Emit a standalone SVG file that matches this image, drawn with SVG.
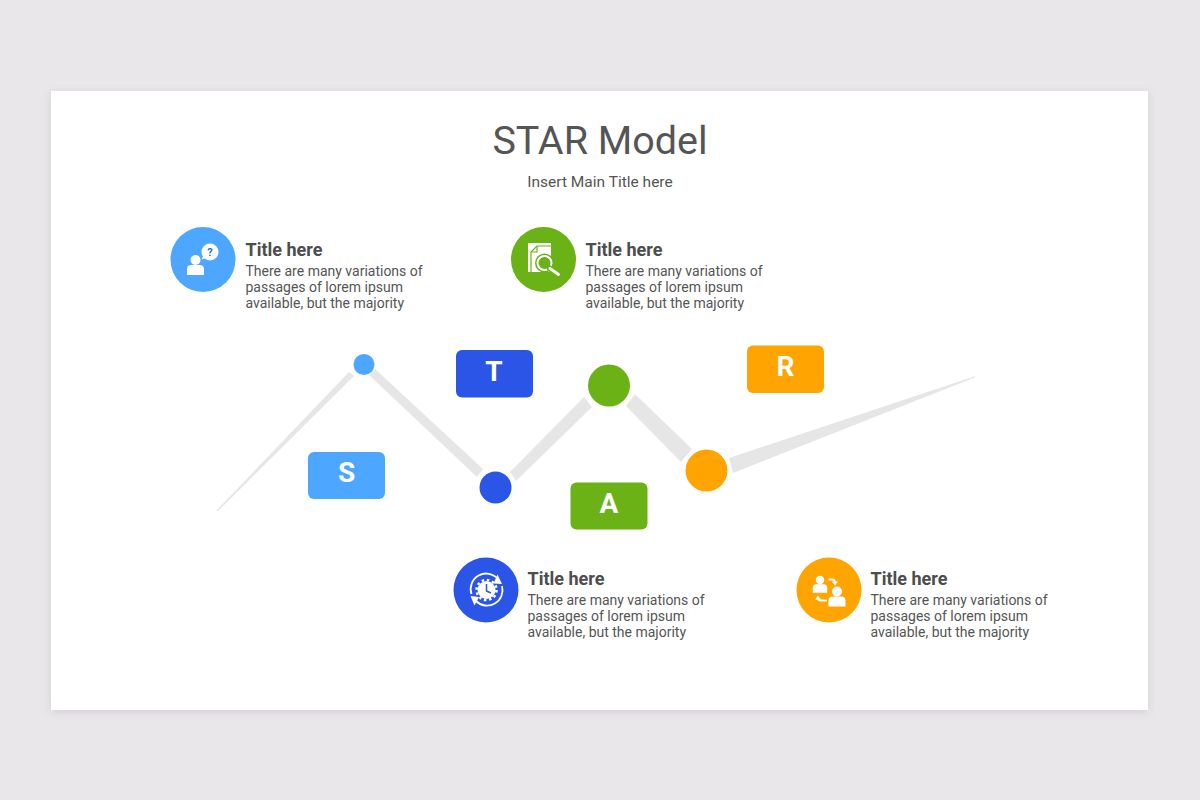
<svg xmlns="http://www.w3.org/2000/svg" width="1200" height="800" viewBox="0 0 1200 800">
<defs>
<filter id="sh" x="-5%" y="-5%" width="110%" height="110%"><feDropShadow dx="0" dy="2" stdDeviation="5" flood-color="#000" flood-opacity="0.1"/></filter>
<g id="person"><circle cx="0" cy="-7" r="5"/><path d="M-8.500 8 V2 Q-8.500 -2 -4 -2 H4 Q8.500 -2 8.500 2 V8 Z"/></g>
</defs>
<style>
text{font-family:Roboto,"Liberation Sans",sans-serif;fill:#555}
.h{font-size:18px;font-weight:700;fill:#4d4d4d}
.b{font-size:14px}
.l{font-size:28px;font-weight:700;fill:#fff;text-anchor:middle}
.w{fill:#fff}
.wl{fill:none;stroke:#fff;stroke-width:1.800}
.c{fill:#e6e6e6}
</style>
<rect width="1200" height="800" fill="#e9e7e9"/>
<rect x="51" y="91" width="1097" height="619" fill="#fff" filter="url(#sh)"/>
<text id="title" x="600" y="154" font-size="39.500" text-anchor="middle">STAR Model</text>
<text id="subtitle" x="600" y="186.500" font-size="15.500" text-anchor="middle">Insert Main Title here</text>
<g id="connectors">
<polygon class="c" points="216,511 218,511 354,376 349,372"/>
<polygon class="c" points="375,369 369,375 477,477 483,469"/>
<polygon class="c" points="510,472 516,481 592,407 584,397"/>
<polygon class="c" points="635,394 626,406 681,462 692,449"/>
<polygon class="c" points="729,458 733,473 976,377 974,376.500"/>
</g>
<g id="dot-s"><circle cx="364" cy="364.500" r="10.500" fill="#4da6ff"/></g>
<g id="dot-t"><circle cx="495.500" cy="487.500" r="16" fill="#2b55e6"/></g>
<g id="dot-a"><circle cx="609" cy="385.500" r="21" fill="#6ab216"/></g>
<g id="dot-r"><circle cx="706.500" cy="470.500" r="21" fill="#ffa400"/></g>
<g id="box-s"><rect x="308" y="452" width="77" height="47" rx="6" fill="#4da6ff"/><text class="l" x="346.500" y="481.500">S</text></g>
<g id="box-t"><rect x="456" y="350" width="77" height="47.500" rx="6" fill="#2b55e6"/><text class="l" x="494" y="380.500">T</text></g>
<g id="box-a"><rect x="570.500" y="482.500" width="77" height="47" rx="6" fill="#6ab216"/><text class="l" x="609" y="512.500">A</text></g>
<g id="box-r"><rect x="747" y="345.500" width="77" height="47.500" rx="6" fill="#ffa400"/><text class="l" x="785.500" y="375.500">R</text></g>
<g id="item-s">
<circle cx="203" cy="259.500" r="32.500" fill="#4da6ff"/>
<use href="#person" x="195.500" y="267" fill="#fff"/>
<path class="w" d="M201.500 259.500 L205 252 L209 257 Z"/>
<circle cx="210" cy="252" r="8.500" class="w"/>
<text x="210" y="256" font-size="11" font-weight="700" text-anchor="middle" style="fill:#2b70c8">?</text>
<text class="h" x="245.500" y="255.500">Title here</text>
<text class="b" x="245.500" y="276">There are many variations of</text>
<text class="b" x="245.500" y="292">passages of lorem ipsum</text>
<text class="b" x="245.500" y="308">available, but the majority</text>
</g>
<g id="item-a">
<circle cx="543.500" cy="259.500" r="32.500" fill="#6ab216"/>
<path class="w" d="M528 243 H551 V272 H528 Z"/>
<path d="M531 272 V252 L537 246 H551" fill="none" stroke="#6ab216" stroke-width="1.200"/>
<path d="M531 252 H537 V246" fill="none" stroke="#6ab216" stroke-width="1.200"/>
<circle cx="544.500" cy="263" r="9.500" fill="#6ab216"/>
<circle cx="544.500" cy="263" r="7" fill="#6ab216" stroke="#fff" stroke-width="2"/>
<path d="M550 268.500 L558.500 274.500" stroke="#6ab216" stroke-width="6" stroke-linecap="round"/>
<path d="M550 268.500 L558.500 274.500" stroke="#fff" stroke-width="3" stroke-linecap="round"/>
<text class="h" x="585.500" y="255.500">Title here</text>
<text class="b" x="585.500" y="276">There are many variations of</text>
<text class="b" x="585.500" y="292">passages of lorem ipsum</text>
<text class="b" x="585.500" y="308">available, but the majority</text>
</g>
<g id="item-t">
<circle cx="486" cy="590" r="32.500" fill="#2b55e6"/>
<path class="wl" d="M471.500 594 A15.500 15.500 0 0 1 498 579"/>
<path class="w" d="M497.500 574.500 L502 584 L493.500 583.500 Z"/>
<path class="wl" d="M502 586 A15.500 15.500 0 0 1 476 601"/>
<path class="w" d="M474.500 605.500 L470.500 596 L479 597 Z"/>
<circle cx="486.500" cy="590" r="9" class="w"/>
<circle cx="486.500" cy="590" r="10" fill="none" stroke="#fff" stroke-width="2.500" stroke-dasharray="2.500 2.740"/>
<path d="M486.500 584 V591 L491 593" fill="none" stroke="#2b55e6" stroke-width="1.500"/>
<text class="h" x="527.500" y="584.500">Title here</text>
<text class="b" x="527.500" y="605">There are many variations of</text>
<text class="b" x="527.500" y="621">passages of lorem ipsum</text>
<text class="b" x="527.500" y="637">available, but the majority</text>
</g>
<g id="item-r">
<circle cx="829" cy="590" r="32.500" fill="#ffa400"/>
<use href="#person" transform="translate(820 586) scale(.85)" fill="#fff"/>
<use href="#person" x="837" y="598.500" fill="#fff"/>
<path class="wl" d="M828.500 579.500 H832 Q835 579.500 835 582"/>
<path class="w" d="M832 581.500 H838 L835 585.500 Z"/>
<path class="wl" d="M827 600.500 H821 Q818 600.500 818 599"/>
<path class="w" d="M815 599.500 H821 L818 595.500 Z"/>
<text class="h" x="870.500" y="584.500">Title here</text>
<text class="b" x="870.500" y="605">There are many variations of</text>
<text class="b" x="870.500" y="621">passages of lorem ipsum</text>
<text class="b" x="870.500" y="637">available, but the majority</text>
</g>
</svg>
